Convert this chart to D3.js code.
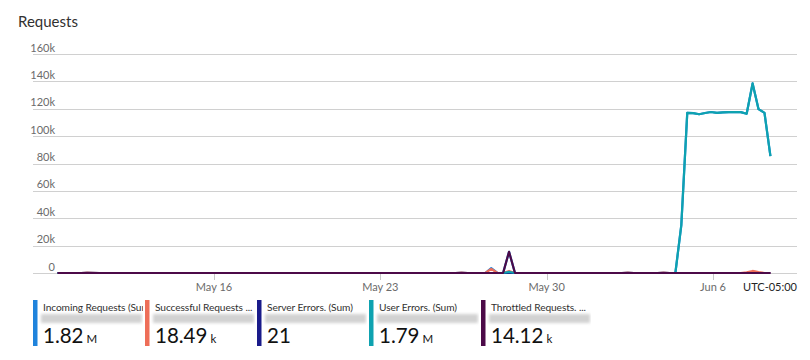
<!DOCTYPE html>
<html>
<head>
<meta charset="utf-8">
<script src="https://cdn.jsdelivr.net/npm/d3@7"></script>
<style>
  body { margin: 0; background: #fff; font-family: "Segoe UI", Lato, sans-serif; }
  .grid line { stroke: #d0d0d0; }
  .ylab { fill: #6b6b6b; font-size: 11px; }
  .xlab { fill: #6b6b6b; font-size: 11px; }
</style>
</head>
<body>
<script>
// chart data, values in thousands, one point every 6 hours from May 9 10:00
const startTime = new Date(2023, 4, 9, 10, 0);
const stepHours = 6;

const incoming = [
  0,0,0,0,0,0.3,0.2,0,0,0,0,0,0,0,0,0,0,0,0,0,
  0,0,0,0,0,0,0,0,0,0,0,0,0,0,0,0,0,0,0,0,
  0,0,0,0,0,0,0,0,0,0,0,0,0,0,0,0,0,0,0,0,
  0,0,0,0,0,0,0,0,0.3,0,0,0,0,3.5,0.2,0,15.5,0,0,0,
  0,0,0,0,0,0,0,0,0,0,0,0,0,0,0,0,0.3,0,0,0,
  0,0,0.3,0,0,35,117,116.8,116,116.9,117.6,117,117.3,117.5,117.5,117.5,116.3,138.5,119.7,117,85.4
];
const successful = [
  0,0,0,0,0,0.3,0.2,0,0,0,0,0,0,0,0,0,0,0,0,0,
  0,0,0,0,0,0,0,0,0,0,0,0,0,0,0,0,0,0,0,0,
  0,0,0,0,0,0,0,0,0,0,0,0,0,0,0,0,0,0,0,0,
  0,0,0,0,0,0,0,0,0.3,0,0,0,0,3.0,0.2,0,1.5,0,0,0,
  0,0,0,0,0,0,0,0,0,0,0,0,0,0,0,0,0.3,0,0,0,
  0,0,0.3,0,0,0,0,0,0,0,0,0,0,0,0,0,0.5,1.5,0.7,0,0
];
const serverErrors = [
  0,0,0,0,0,0,0,0,0,0,0,0,0,0,0,0,0,0,0,0,
  0,0,0,0,0,0,0,0,0,0,0,0,0,0,0,0,0,0,0,0,
  0,0,0,0,0,0,0,0,0,0,0,0,0,0,0,0,0,0,0,0,
  0,0,0,0,0,0,0,0,0,0,0,0,0,0,0,0,0,0,0,0,
  0,0,0,0,0,0,0,0,0,0,0,0,0,0,0,0,0,0,0,0,
  0,0,0,0,0,0,0,0,0,0,0,0,0,0,0,0,0,0,0,0,0
];
const userErrors = [
  0,0,0,0,0,0,0,0,0,0,0,0,0,0,0,0,0,0,0,0,
  0,0,0,0,0,0,0,0,0,0,0,0,0,0,0,0,0,0,0,0,
  0,0,0,0,0,0,0,0,0,0,0,0,0,0,0,0,0,0,0,0,
  0,0,0,0,0,0,0,0,0,0,0,0,0,0,0,0,0.8,0,0,0,
  0,0,0,0,0,0,0,0,0,0,0,0,0,0,0,0,0,0,0,0,
  0,0,0,0,0,35,117,116.8,116,116.9,117.6,117,117.3,117.5,117.5,117.5,116.3,138.5,119.7,117,85.4
];
const throttled = [
  0,0,0,0,0,0,0,0,0,0,0,0,0,0,0,0,0,0,0,0,
  0,0,0,0,0,0,0,0,0,0,0,0,0,0,0,0,0,0,0,0,
  0,0,0,0,0,0,0,0,0,0,0,0,0,0,0,0,0,0,0,0,
  0,0,0,0,0,0,0,0,0,0,0,0,0,0,0,0,15.5,0,0,0,
  0,0,0,0,0,0,0,0,0,0,0,0,0,0,0,0,0,0,0,0,
  0,0,0,0,0,0,0,0,0,0,0,0,0,0,0,0,0,0,0,0,0
];

const seriesLabels = ["Incoming Requests (Sum", "Successful Requests ...", "Server Errors. (Sum)", "User Errors. (Sum)", "Throttled Requests. ..."];
const seriesColors = ["#1f83dc", "#ee6e58", "#1a1b8a", "#0ea2b0", "#4c0a48"];
const totals = ["1.82", "18.49", "21", "1.79", "14.12"];
const totalUnits = ["M", "k", "", "M", "k"];
const yTicks = [0, 20, 40, 60, 80, 100, 120, 140, 160];
const xTickDates = [new Date(2023, 4, 16), new Date(2023, 4, 23), new Date(2023, 4, 30), new Date(2023, 5, 6)];
const xTickLabels = ["May 16", "May 23", "May 30", "Jun 6"];

const allSeries = [incoming, successful, serverErrors, userErrors, throttled];

const w = 810, h = 360;
const svg = d3.select("body").append("svg").attr("width", w).attr("height", h);

// title
svg.append("text").attr("x", 18).attr("y", 27)
  .attr("font-size", 15).attr("fill", "#323130").text("Requests");

// scales
const y = d3.scaleLinear().domain([0, 160]).range([273, 54]);
const x = d3.scaleTime()
  .domain([new Date(2023, 4, 16), new Date(2023, 5, 6)])
  .range([214, 713]);

// gridlines + y labels
const grid = svg.append("g").attr("class", "grid");
grid.selectAll("line").data(yTicks).enter().append("line")
  .attr("x1", 33).attr("x2", 797)
  .attr("y1", d => Math.round(y(d)) + 0.5).attr("y2", d => Math.round(y(d)) + 0.5);
svg.selectAll(".ylab").data(yTicks).enter().append("text")
  .attr("class", "ylab")
  .attr("x", 55).attr("y", d => y(d) - 2.5)
  .attr("text-anchor", "end")
  .text(d => d === 0 ? "0" : d + "k");

// x ticks
svg.selectAll(".xtick").data(xTickDates).enter().append("line")
  .attr("x1", d => Math.round(x(d)) + 0.5).attr("x2", d => Math.round(x(d)) + 0.5)
  .attr("y1", 274).attr("y2", 280).attr("stroke", "#c8c8c8");
svg.selectAll(".xlab").data(xTickDates).enter().append("text")
  .attr("class", "xlab")
  .attr("x", d => x(d)).attr("y", 291)
  .attr("text-anchor", "middle")
  .text((d, i) => xTickLabels[i]);
svg.append("text").attr("x", 797).attr("y", 291).attr("text-anchor", "end")
  .attr("font-size", 11).attr("fill", "#252525").text("UTC-05:00");

// lines
const timeAt = i => new Date(startTime.getTime() + i * stepHours * 3600 * 1000);
const line = d3.line()
  .x((d, i) => x(timeAt(i)))
  .y(d => y(d));
allSeries.forEach((s, k) => {
  svg.append("path")
    .datum(s)
    .attr("fill", "none")
    .attr("stroke", seriesColors[k])
    .attr("stroke-width", 2.2)
    .attr("stroke-linejoin", "round")
    .attr("d", line);
});

// legend
const defs = svg.append("defs");
defs.append("filter").attr("id", "blur")
  .attr("x", "-10%").attr("y", "-60%").attr("width", "120%").attr("height", "220%")
  .append("feGaussianBlur").attr("stdDeviation", 1.6);

const tileW = 112;
seriesLabels.forEach((name, k) => {
  const x0 = 33 + k * tileW;
  defs.append("clipPath").attr("id", "clip" + k)
    .append("rect").attr("x", x0).attr("y", 295).attr("width", tileW - 2).attr("height", 60);
  const g = svg.append("g");
  g.append("rect").attr("x", x0).attr("y", 300).attr("width", 4.5).attr("height", 46)
    .attr("fill", seriesColors[k]);
  const inner = g.append("g").attr("clip-path", `url(#clip${k})`);
  inner.append("text").attr("x", x0 + 10).attr("y", 311)
    .attr("font-size", 10.2).attr("letter-spacing", -0.1)
    .attr("fill", "#323130").text(name);
  inner.append("rect").attr("x", x0 + 8).attr("y", 314).attr("width", 101).attr("height", 9)
    .attr("fill", "#d2d2d2").attr("filter", "url(#blur)");
  const t = inner.append("text").attr("x", x0 + 10).attr("y", 343).attr("fill", "#111");
  t.append("tspan").attr("font-size", 20.5).text(totals[k]);
  if (totalUnits[k]) {
    t.append("tspan").attr("font-size", 11.5).attr("dx", 3).text(totalUnits[k]);
  }
});
</script>
</body>
</html>
